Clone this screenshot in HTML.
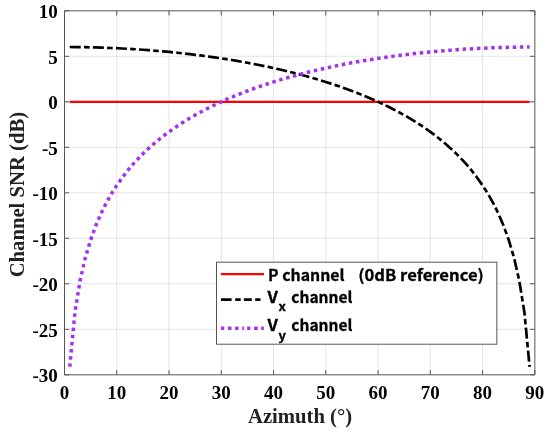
<!DOCTYPE html>
<html><head><meta charset="utf-8"><style>html,body{margin:0;padding:0;background:#fff;overflow:hidden}svg{display:block}</style></head>
<body><svg width="550" height="438" viewBox="0 0 550 438">
<rect x="0" y="0" width="550" height="438" fill="#fff"/>
<path d="M116.76,10.80 V374.80 M169.02,10.80 V374.80 M221.28,10.80 V374.80 M273.54,10.80 V374.80 M325.81,10.80 V374.80 M378.07,10.80 V374.80 M430.33,10.80 V374.80 M482.59,10.80 V374.80" stroke="#262626" stroke-opacity="0.12" stroke-width="1" fill="none"/>
<path d="M64.50,329.30 H534.85 M64.50,283.80 H534.85 M64.50,238.30 H534.85 M64.50,192.80 H534.85 M64.50,147.30 H534.85 M64.50,101.80 H534.85 M64.50,56.30 H534.85" stroke="#262626" stroke-opacity="0.12" stroke-width="1" fill="none"/>
<path d="M69.73,101.80 H529.62" stroke="#ff0000" stroke-width="2.3" fill="none"/>
<path d="M69.726,47.025 L74.952,47.061 L80.178,47.121 L85.404,47.205 L90.631,47.314 L95.857,47.447 L101.083,47.604 L106.309,47.786 L111.535,47.992 L116.761,48.223 L121.987,48.478 L127.213,48.759 L132.439,49.065 L137.666,49.396 L142.892,49.753 L148.118,50.135 L153.344,50.544 L158.570,50.979 L163.796,51.441 L169.022,51.929 L174.248,52.445 L179.474,52.988 L184.701,53.560 L189.927,54.160 L195.153,54.788 L200.379,55.446 L205.605,56.134 L210.831,56.852 L216.057,57.601 L221.283,58.382 L226.509,59.195 L231.736,60.040 L236.962,60.919 L242.188,61.832 L247.414,62.780 L252.640,63.764 L257.866,64.785 L263.092,65.844 L268.318,66.941 L273.544,68.078 L278.771,69.257 L283.997,70.477 L289.223,71.741 L294.449,73.051 L299.675,74.406 L304.901,75.810 L310.127,77.264 L315.353,78.770 L320.579,80.329 L325.806,81.944 L331.032,83.618 L336.258,85.352 L341.484,87.150 L346.710,89.015 L351.936,90.949 L357.162,92.956 L362.388,95.041 L367.614,97.206 L372.841,99.458 L378.067,101.800 L383.293,104.239 L388.519,106.780 L393.745,109.430 L398.971,112.197 L404.197,115.090 L409.423,118.118 L414.649,121.291 L419.876,124.622 L425.102,128.125 L430.328,131.815 L435.554,135.712 L440.780,139.836 L446.006,144.212 L451.232,148.871 L456.458,153.847 L461.684,159.184 L466.911,164.933 L472.137,171.159 L477.363,177.944 L482.589,185.393 L487.815,193.644 L493.041,202.885 L498.267,213.380 L503.493,225.512 L508.719,239.879 L513.946,257.480 L519.172,280.191 L524.398,312.219 L529.624,366.995" stroke="#000" stroke-width="2.7" stroke-dasharray="11.0 3.26 5.6 3.26" fill="none"/>
<path d="M69.726,366.995 L74.952,312.219 L80.178,280.191 L85.404,257.480 L90.631,239.879 L95.857,225.512 L101.083,213.380 L106.309,202.885 L111.535,193.644 L116.761,185.393 L121.987,177.944 L127.213,171.159 L132.439,164.933 L137.666,159.184 L142.892,153.847 L148.118,148.871 L153.344,144.212 L158.570,139.836 L163.796,135.712 L169.022,131.815 L174.248,128.125 L179.474,124.622 L184.701,121.291 L189.927,118.118 L195.153,115.090 L200.379,112.197 L205.605,109.430 L210.831,106.780 L216.057,104.239 L221.283,101.800 L226.509,99.458 L231.736,97.206 L236.962,95.041 L242.188,92.956 L247.414,90.949 L252.640,89.015 L257.866,87.150 L263.092,85.352 L268.318,83.618 L273.544,81.944 L278.771,80.329 L283.997,78.770 L289.223,77.264 L294.449,75.810 L299.675,74.406 L304.901,73.051 L310.127,71.741 L315.353,70.477 L320.579,69.257 L325.806,68.078 L331.032,66.941 L336.258,65.844 L341.484,64.785 L346.710,63.764 L351.936,62.780 L357.162,61.832 L362.388,60.919 L367.614,60.040 L372.841,59.195 L378.067,58.382 L383.293,57.601 L388.519,56.852 L393.745,56.134 L398.971,55.446 L404.197,54.788 L409.423,54.160 L414.649,53.560 L419.876,52.988 L425.102,52.445 L430.328,51.929 L435.554,51.441 L440.780,50.979 L446.006,50.544 L451.232,50.135 L456.458,49.753 L461.684,49.396 L466.911,49.065 L472.137,48.759 L477.363,48.478 L482.589,48.223 L487.815,47.992 L493.041,47.786 L498.267,47.604 L503.493,47.447 L508.719,47.314 L513.946,47.205 L519.172,47.121 L524.398,47.061 L529.624,47.025" stroke="#a232f2" stroke-width="3.5" stroke-dasharray="3.5 3.667" stroke-dashoffset="-0.21" fill="none"/>
<path d="M64.5,10.8 H534.85 V374.8 H64.5 Z M64.50,374.8 v-4.7 M64.50,10.8 v4.7 M116.76,374.8 v-4.7 M116.76,10.8 v4.7 M169.02,374.8 v-4.7 M169.02,10.8 v4.7 M221.28,374.8 v-4.7 M221.28,10.8 v4.7 M273.54,374.8 v-4.7 M273.54,10.8 v4.7 M325.81,374.8 v-4.7 M325.81,10.8 v4.7 M378.07,374.8 v-4.7 M378.07,10.8 v4.7 M430.33,374.8 v-4.7 M430.33,10.8 v4.7 M482.59,374.8 v-4.7 M482.59,10.8 v4.7 M534.85,374.8 v-4.7 M534.85,10.8 v4.7 M64.5,374.80 h4.7 M534.85,374.80 h-4.7 M64.5,329.30 h4.7 M534.85,329.30 h-4.7 M64.5,283.80 h4.7 M534.85,283.80 h-4.7 M64.5,238.30 h4.7 M534.85,238.30 h-4.7 M64.5,192.80 h4.7 M534.85,192.80 h-4.7 M64.5,147.30 h4.7 M534.85,147.30 h-4.7 M64.5,101.80 h4.7 M534.85,101.80 h-4.7 M64.5,56.30 h4.7 M534.85,56.30 h-4.7 M64.5,10.80 h4.7 M534.85,10.80 h-4.7" stroke="#565656" stroke-width="1" fill="none"/>
<text x="57.8" y="382.00" text-anchor="end" font-family="Liberation Serif, serif" font-weight="bold" font-size="19" fill="#000">-30</text>
<text x="57.8" y="336.50" text-anchor="end" font-family="Liberation Serif, serif" font-weight="bold" font-size="19" fill="#000">-25</text>
<text x="57.8" y="291.00" text-anchor="end" font-family="Liberation Serif, serif" font-weight="bold" font-size="19" fill="#000">-20</text>
<text x="57.8" y="245.50" text-anchor="end" font-family="Liberation Serif, serif" font-weight="bold" font-size="19" fill="#000">-15</text>
<text x="57.8" y="200.00" text-anchor="end" font-family="Liberation Serif, serif" font-weight="bold" font-size="19" fill="#000">-10</text>
<text x="57.8" y="154.50" text-anchor="end" font-family="Liberation Serif, serif" font-weight="bold" font-size="19" fill="#000">-5</text>
<text x="57.8" y="109.00" text-anchor="end" font-family="Liberation Serif, serif" font-weight="bold" font-size="19" fill="#000">0</text>
<text x="57.8" y="63.50" text-anchor="end" font-family="Liberation Serif, serif" font-weight="bold" font-size="19" fill="#000">5</text>
<text x="57.8" y="18.00" text-anchor="end" font-family="Liberation Serif, serif" font-weight="bold" font-size="19" fill="#000">10</text>
<text x="64.50" y="399.1" text-anchor="middle" font-family="Liberation Serif, serif" font-weight="bold" font-size="19" fill="#000">0</text>
<text x="116.76" y="399.1" text-anchor="middle" font-family="Liberation Serif, serif" font-weight="bold" font-size="19" fill="#000">10</text>
<text x="169.02" y="399.1" text-anchor="middle" font-family="Liberation Serif, serif" font-weight="bold" font-size="19" fill="#000">20</text>
<text x="221.28" y="399.1" text-anchor="middle" font-family="Liberation Serif, serif" font-weight="bold" font-size="19" fill="#000">30</text>
<text x="273.54" y="399.1" text-anchor="middle" font-family="Liberation Serif, serif" font-weight="bold" font-size="19" fill="#000">40</text>
<text x="325.81" y="399.1" text-anchor="middle" font-family="Liberation Serif, serif" font-weight="bold" font-size="19" fill="#000">50</text>
<text x="378.07" y="399.1" text-anchor="middle" font-family="Liberation Serif, serif" font-weight="bold" font-size="19" fill="#000">60</text>
<text x="430.33" y="399.1" text-anchor="middle" font-family="Liberation Serif, serif" font-weight="bold" font-size="19" fill="#000">70</text>
<text x="482.59" y="399.1" text-anchor="middle" font-family="Liberation Serif, serif" font-weight="bold" font-size="19" fill="#000">80</text>
<text x="534.85" y="399.1" text-anchor="middle" font-family="Liberation Serif, serif" font-weight="bold" font-size="19" fill="#000">90</text>
<text x="300.07" y="423" text-anchor="middle" font-family="Liberation Serif, serif" font-weight="bold" font-size="20.7" fill="#222">Azimuth (°)</text>
<text transform="translate(23.9,194.6) rotate(-90)" x="0" y="0" text-anchor="middle" font-family="Liberation Serif, serif" font-weight="bold" font-size="20.7" fill="#222">Channel SNR (dB)</text>
<rect x="216.5" y="262.2" width="280.35" height="82.00" fill="#fff" stroke="#565656" stroke-width="1"/>
<path d="M220.8,274.2 H264" stroke="#ff0000" stroke-width="2.3"/>
<rect x="221" y="298.25" width="10.60" height="2.7" fill="#000"/>
<rect x="235.2" y="298.25" width="5.50" height="2.7" fill="#000"/>
<rect x="243.9" y="298.25" width="7.90" height="2.7" fill="#000"/>
<rect x="255.2" y="298.25" width="5.30" height="2.7" fill="#000"/>
<rect x="220.9" y="326.55" width="3.30" height="3.5" fill="#a232f2"/>
<rect x="227.9" y="326.55" width="3.60" height="3.5" fill="#a232f2"/>
<rect x="235.1" y="326.55" width="3.50" height="3.5" fill="#a232f2"/>
<rect x="242.3" y="326.55" width="1.80" height="3.5" fill="#a232f2"/>
<rect x="247.1" y="326.55" width="3.30" height="3.5" fill="#a232f2"/>
<rect x="254.1" y="326.55" width="3.60" height="3.5" fill="#a232f2"/>
<rect x="261.2" y="326.55" width="2.60" height="3.5" fill="#a232f2"/>
<text x="268" y="280.5" font-family="Noto Sans CJK SC, sans-serif" font-weight="bold" fill="#000" stroke="#000" stroke-width="0.3" font-size="15.5" textLength="76.5" lengthAdjust="spacingAndGlyphs">P channel</text>
<text x="358.3" y="280.5" font-family="Noto Sans CJK SC, sans-serif" font-weight="bold" fill="#000" stroke="#000" stroke-width="0.3" font-size="15.5" textLength="125.5" lengthAdjust="spacingAndGlyphs">(0dB reference)</text>
<text x="267.6" y="302.8" font-family="Noto Sans CJK SC, sans-serif" font-weight="bold" fill="#000" stroke="#000" stroke-width="0.3" font-size="15.5" textLength="10.4" lengthAdjust="spacingAndGlyphs">V</text><text x="278.6" y="310.6" font-family="Noto Sans CJK SC, sans-serif" font-weight="bold" fill="#000" stroke="#000" stroke-width="0.3" font-size="11.5" textLength="7.4" lengthAdjust="spacingAndGlyphs">x</text><text x="291.3" y="302.8" font-family="Noto Sans CJK SC, sans-serif" font-weight="bold" fill="#000" stroke="#000" stroke-width="0.3" font-size="15.5">channel</text>
<text x="267.6" y="330.8" font-family="Noto Sans CJK SC, sans-serif" font-weight="bold" fill="#000" stroke="#000" stroke-width="0.3" font-size="15.5" textLength="10.4" lengthAdjust="spacingAndGlyphs">V</text><text x="278.6" y="339.6" font-family="Noto Sans CJK SC, sans-serif" font-weight="bold" fill="#000" stroke="#000" stroke-width="0.3" font-size="11.5" textLength="7.4" lengthAdjust="spacingAndGlyphs">y</text><text x="291.3" y="330.8" font-family="Noto Sans CJK SC, sans-serif" font-weight="bold" fill="#000" stroke="#000" stroke-width="0.3" font-size="15.5">channel</text>
</svg></body></html>
